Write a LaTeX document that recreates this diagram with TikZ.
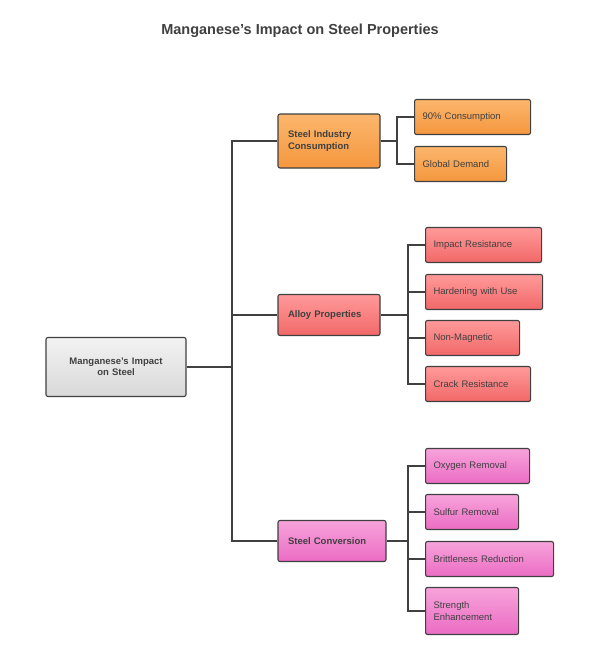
\documentclass[tikz,border=0pt]{standalone}
\usepackage{fontspec}
\setmainfont{Liberation Sans}
\usetikzlibrary{positioning}

\definecolor{orngtop}{HTML}{FBB66C}
\definecolor{orngbot}{HTML}{F5973F}
\definecolor{redtop}{HTML}{FF9A9A}
\definecolor{redbot}{HTML}{F26868}
\definecolor{pinktop}{HTML}{F7A3DB}
\definecolor{pinkbot}{HTML}{EB6CC4}

\tikzset{
    box/.style={draw=black!75, line width=1.1pt, rounded corners=2pt, align=left,
        font=\fontsize{9.5}{11.5}\selectfont, text=black!75, inner sep=0pt},
    head/.style={font=\bfseries\fontsize{9.5}{11.5}\selectfont},
    root/.style={box, top color=gray!10, bottom color=gray!30, head, align=center},
    orng/.style={box, top color=orngtop, bottom color=orngbot},
    redb/.style={box, top color=redtop, bottom color=redbot},
    pink/.style={box, top color=pinktop, bottom color=pinkbot},
    link/.style={draw=black!75, line width=1.1pt},
}

\newcommand{\leaf}[5]{% style, name, left x, center y, width, text
    \node[#1, minimum height=35pt, text width=#4-16pt, minimum width=#4, anchor=west]
        (#2) at (#3) {#5};
}

\begin{document}
\begin{tikzpicture}[x=1pt, y=-1pt]
    \useasboundingbox[fill=white] (0,0) rectangle (600,669);
    \node[font=\bfseries\fontsize{14.5}{17}\selectfont, text=black!75] (title) at (300,31) {Manganese's Impact on Steel Properties};

    % root and main branches
    \node[root, minimum width=140pt, minimum height=59pt, text width=124pt] (mn) at (116,367) {Manganese's Impact\\on Steel};
    \node[orng, head, minimum width=102pt, minimum height=54pt, text width=82pt] (use) at (329,141) {Steel Industry\\Consumption};
    \node[redb, head, minimum width=102pt, minimum height=41pt, text width=82pt] (alloy) at (329,315) {Alloy Properties};
    \node[pink, head, minimum width=108pt, minimum height=41pt, text width=88pt] (conv) at (332,541) {Steel Conversion};

    % leaves
    \leaf{orng}{pct}{414,117}{116pt}{90\% Consumption}
    \leaf{orng}{glob}{414,164}{92pt}{Global Demand}
    \leaf{redb}{imp}{425,245}{116pt}{Impact Resistance}
    \leaf{redb}{hard}{425,292}{117pt}{Hardening with Use}
    \leaf{redb}{nonm}{425,338}{94pt}{Non-Magnetic}
    \leaf{redb}{crack}{425,384}{105pt}{Crack Resistance}
    \leaf{pink}{oxy}{425,466}{104pt}{Oxygen Removal}
    \leaf{pink}{sulf}{425,512}{93pt}{Sulfur Removal}
    \leaf{pink}{brit}{425,559}{128pt}{Brittleness Reduction}
    \node[pink, minimum height=47pt, minimum width=93pt, text width=77pt, anchor=west] (str) at (425,611) {Strength\\Enhancement};

    % connectors
    \coordinate (trunk) at (232,367);
    \draw[link] (mn) -- (trunk);
    \draw[link] (trunk) |- (use);
    \draw[link] (trunk) |- (alloy);
    \draw[link] (trunk) |- (conv);

    \coordinate (ja) at (397,141);
    \draw[link] (use) -- (ja);
    \foreach \n in {pct, glob} \draw[link] (ja) |- (\n);
    \coordinate (jb) at (408,315);
    \draw[link] (alloy) -- (jb);
    \foreach \n in {imp, hard, nonm, crack} \draw[link] (jb) |- (\n);
    \coordinate (jc) at (408,541);
    \draw[link] (conv) -- (jc);
    \foreach \n in {oxy, sulf, brit, str} \draw[link] (jc) |- (\n);
\end{tikzpicture}
\end{document}
